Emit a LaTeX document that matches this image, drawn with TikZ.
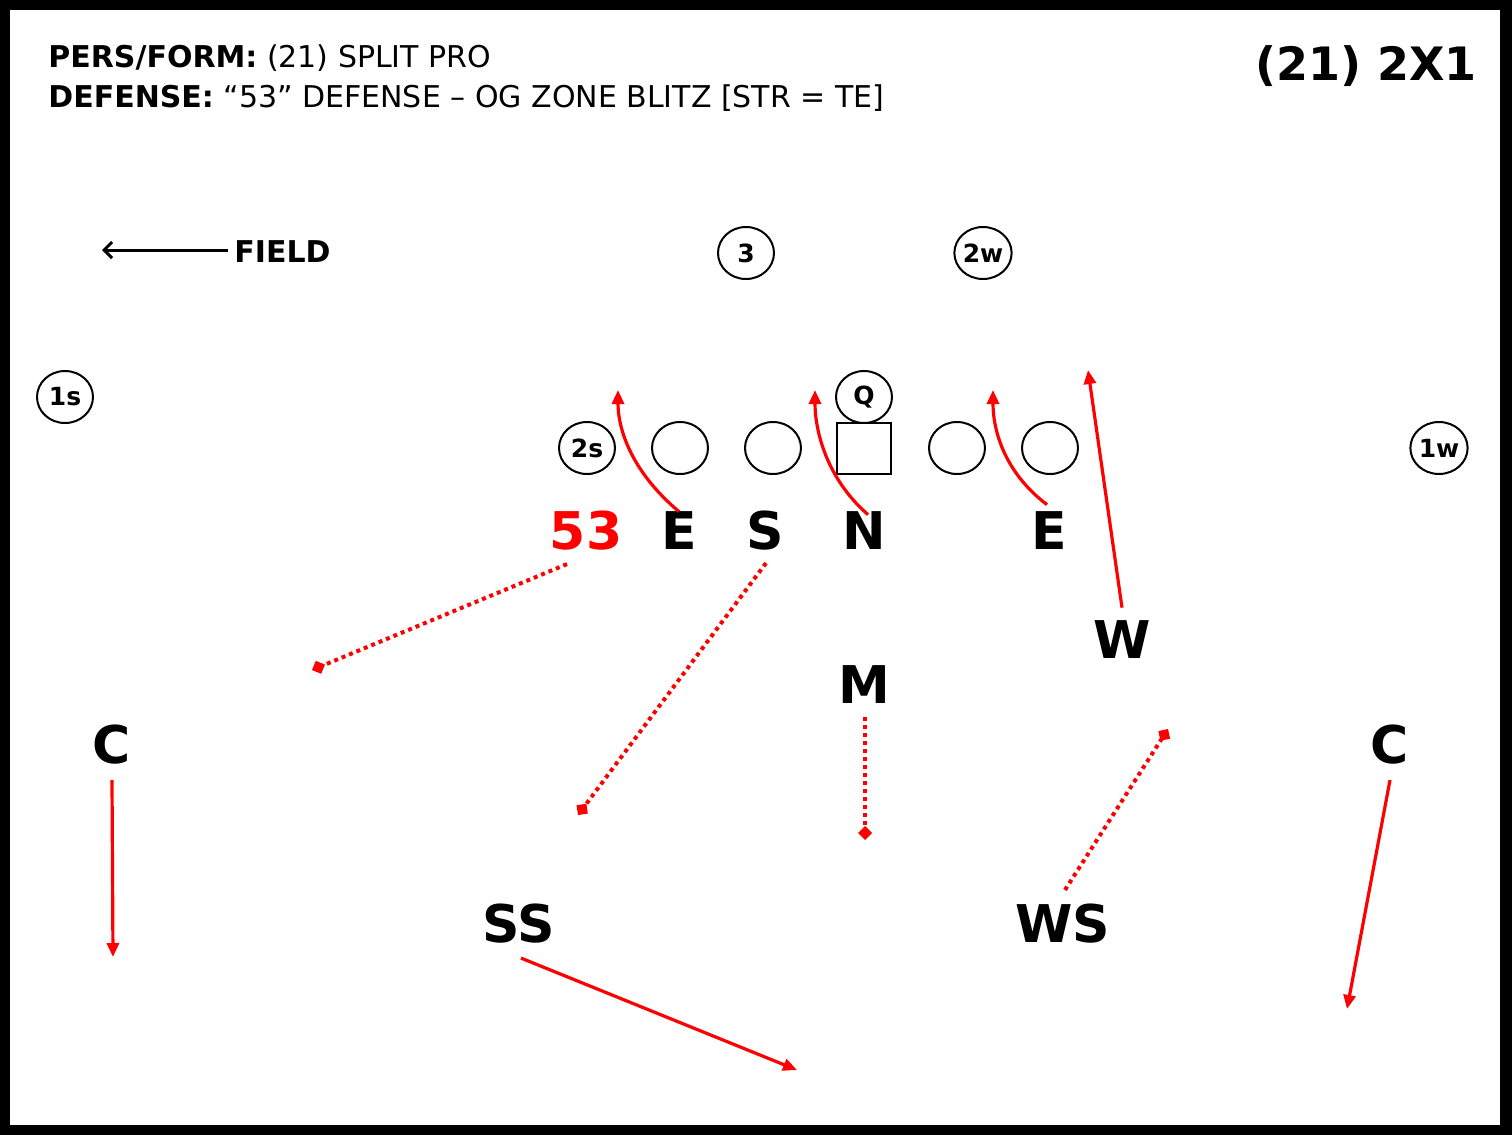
\documentclass[tikz,border=0pt]{standalone}
\usepackage{fontspec}
\setmainfont{DejaVu Sans}
\usetikzlibrary{arrows.meta,shapes.geometric}
\begin{document}
\begin{tikzpicture}[x=0.5pt,y=-0.5pt,
    player/.style={font=\fontsize{26}{26}\bfseries\selectfont,inner sep=0pt},
    man/.style={draw,ellipse,line width=1pt,minimum width=28pt,minimum height=26pt,
      inner sep=0pt,font=\fontsize{12.5}{13}\bfseries\selectfont},
    ctr/.style={draw,line width=1pt,minimum width=27pt,minimum height=25.5pt,inner sep=0pt},
    rush/.style={red,line width=1.6pt,-{Triangle[length=7pt,width=6pt]}},
    drop/.style={red,line width=2pt,dash pattern=on 2pt off 2pt,-{Diamond[length=7pt,width=7pt]}}]
  \useasboundingbox (0,0) rectangle (1512,1135);
  \fill (0,0) rectangle (1512,1135);
  \fill[white] (10,10) rectangle (1500,1125);
  % header
  \node[anchor=base west,inner sep=0pt,font=\fontsize{15}{18}\selectfont] (pers)
    at (48,68) {\textbf{PERS/FORM:} (21) SPLIT PRO};
  \node[anchor=base west,inner sep=0pt,font=\fontsize{15}{18}\selectfont] (def)
    at (48,107) {\textbf{DEFENSE:} “53” DEFENSE – OG ZONE BLITZ [STR = TE]};
  \node[anchor=base east,inner sep=0pt,font=\fontsize{23}{23}\bfseries\selectfont] (title)
    at (1477,80) {(21) 2X1};
  % field side
  \node[anchor=west,inner sep=0pt,font=\fontsize{15}{15}\bfseries\selectfont] (field)
    at (234,252) {FIELD};
  \coordinate (fieldtip) at (102,250);
  \draw[line width=1.5pt,-{Straight Barb[length=4pt,width=8pt]}] ([xshift=-3pt,yshift=1pt]field.west) -- (fieldtip);
  % offense
  \draw
    (746,253) node[man] (three){3}
    (983,253) node[man] (twow){2w}
    (65,397) node[man] (ones){1s}
    (864,397) node[man] (qb){Q}
    (587,448) node[man] (twos){2s}
    (680,448) node[man] (lt){}
    (773,448) node[man] (lg){}
    (864,448) node[ctr] (c){}
    (957,448) node[man] (rg){}
    (1050,448) node[man] (rt){}
    (1439,448) node[man] (onew){1w};
  % defense
  \draw
    (586,531) node[player,red] (d53){53}
    (679,531) node[player] (el){E}
    (765,531) node[player] (s){S}
    (864,531) node[player] (n){N}
    (1049,531) node[player] (er){E}
    (1122,640) node[player] (w){W}
    (864,685) node[player] (m){M}
    (112,745) node[player] (cl){C}
    (1390,745) node[player] (cr){C}
    (519,924) node[player] (ss){SS}
    (1063,924) node[player] (ws){WS};
  % landmarks
  \coordinate (elend) at (618,390);
  \coordinate (nend) at (815,390);
  \coordinate (erend) at (993,390);
  \coordinate (wend) at (1088,370);
  \coordinate (clend) at (113,957);
  \coordinate (crend) at (1347,1009);
  \coordinate (ssend) at (797,1070);
  \coordinate (d53end) at (312,670);
  \coordinate (send) at (578,815);
  \coordinate (mend) at (865,840);
  \coordinate (wsend) at (1168,729);
  \begin{scope}
    \draw[rush] (el.north) .. controls (632,472) and (618,430) .. (elend);
    \draw[rush] ([xshift=2pt,yshift=-1.5pt]n.north) .. controls (826,478) and (815,430) .. (nend);
    \draw[rush] ([xshift=-1pt,yshift=3.5pt]er.north) .. controls (1004,472) and (993,430) .. (erend);
    \draw[rush] ([yshift=6.5pt]w.north) -- (wend);
    \draw[rush] ([yshift=-7.5pt]cl.south) -- (clend);
    \draw[rush] ([yshift=-7.5pt]cr.south) -- (crend);
    \draw[rush] ([xshift=1pt,yshift=-7pt]ss.south) -- (ssend);
    \draw[drop] ([xshift=-9.5pt,yshift=-6.5pt]d53.south) -- (d53end);
    \draw[drop] ([xshift=0.5pt,yshift=-6pt]s.south) -- (send);
    \draw[drop] ([xshift=0.5pt,yshift=-6.5pt]m.south) -- (mend);
    \draw[drop] ([xshift=1pt,yshift=7pt]ws.north) -- (wsend);
  \end{scope}
\end{tikzpicture}
\end{document}
